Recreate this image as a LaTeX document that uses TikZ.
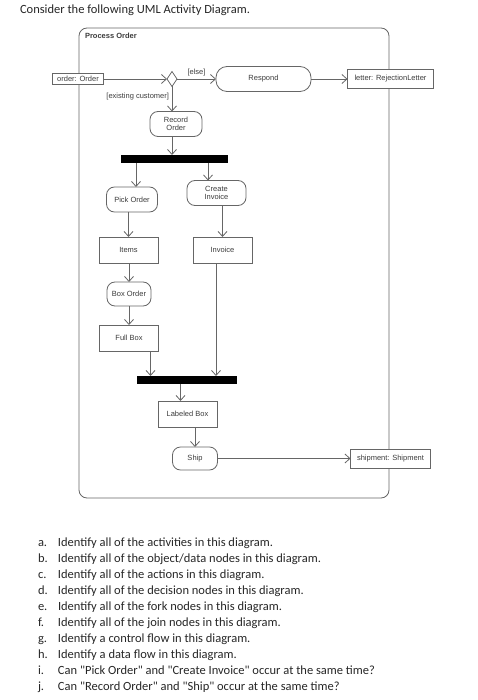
\documentclass[tikz,border=0pt]{standalone}
\usepackage{fontspec}
\setmainfont{Carlito}[Ligatures=TeXOff]
\newfontfamily\umlfont{Liberation Sans}
\usetikzlibrary{positioning,arrows.meta,shapes.geometric}
\definecolor{umlgray}{HTML}{666666}
\definecolor{umltext}{HTML}{3C3C3C}

\begin{document}
\begin{tikzpicture}[
    x=1pt, y=1pt,
    node distance=20pt and 30pt,
    every node/.style={inner sep=0pt, outer sep=0pt},
    uml/.style={font=\umlfont\fontsize{7.5}{8.5}\selectfont, text=umltext, align=center},
    frame/.style={rectangle, draw=umlgray, line width=0.8pt, rounded corners=8pt},
    act/.style={uml, rectangle, draw=umlgray, line width=0.8pt, rounded corners=8pt, fill=white},
    obj/.style={uml, rectangle, draw=umlgray, line width=0.8pt, fill=white},
    bar/.style={rectangle, fill=black, minimum height=8pt},
    decision/.style={diamond, draw=umlgray, line width=0.8pt, fill=white,
                     minimum width=10pt, minimum height=15pt},
    flow/.style={-{Straight Barb[length=5pt,width=9pt]}, draw=umlgray, line width=0.8pt},
    guard/.style={uml, inner sep=3pt},
    qtext/.style={font=\fontsize{12.5}{15}\selectfont, text=black!85, anchor=base west},
]
    \useasboundingbox (0,0) rectangle (477,-700);

    \node[qtext] (title) at (20,-14) {Consider the following UML Activity Diagram.};

    % activity frame
    \node[frame, minimum width=310pt, minimum height=470pt] (po) at (234,-263) {};
    \node[uml, font=\umlfont\bfseries\fontsize{7.5}{8.5}\selectfont, anchor=north west]
        (potitle) at ([xshift=6pt,yshift=-5pt]po.north west) {Process Order};

    \node[obj, minimum width=51pt, minimum height=11pt] (ord) at (78,-79) {order: Order};
    \node[decision, right=63.5pt of ord] (dec) {};
    \node[act, minimum width=95pt, minimum height=25pt, rounded corners=11pt,
          right=39pt of dec] (resp) {Respond};
    \node[obj, minimum width=86pt, minimum height=19pt, right=36.5pt of resp] (rej) {letter: RejectionLetter};
    \node[act, minimum width=52pt, minimum height=25pt, below=25pt of dec, xshift=4pt] (rec) {Record\\Order};
    \node[bar, minimum width=107pt, below=18.5pt of rec, xshift=-1.5pt] (fork) {};
    \node[act, minimum width=51pt, minimum height=25pt, below=24pt of fork, xshift=-42.5pt] (pick) {Pick Order};
    \node[act, minimum width=59pt, minimum height=25pt, below=17.5pt of fork, xshift=42pt] (cinv) {Create\\Invoice};
    \node[obj, minimum width=59pt, minimum height=26pt, below=25pt of pick, xshift=-3.5pt] (items) {Items};
    \node[obj, minimum width=59pt, minimum height=26pt, below=31.5pt of cinv, xshift=6pt] (inv) {Invoice};
    \node[act, minimum width=44pt, minimum height=24pt, below=19pt of items, xshift=0.5pt] (boxo) {Box Order};
    \node[obj, minimum width=59pt, minimum height=26pt, below=19pt of boxo] (full) {Full Box};
    \node[bar, minimum width=100pt, below=25pt of full, xshift=57.5pt] (join) {};
    \node[obj, minimum width=59pt, minimum height=26pt, below=17pt of join, xshift=1pt] (lab) {Labeled Box};
    \node[act, minimum width=45pt, minimum height=23pt, below=20pt of lab, xshift=7.5pt] (ship) {Ship};
    \node[obj, minimum width=80pt, minimum height=19pt, right=133pt of ship] (shp) {shipment: Shipment};

    \draw[flow] (ord) -- (dec);
    \draw[flow] (dec) -- node[guard, above] (else) {[else]} (resp);
    \draw[flow] (resp) -- (rej);
    \draw[flow] (dec) -- node[guard, left, pos=0.42] (exist) {[existing customer]} (dec |- rec.north);
    \draw[flow] (dec |- rec.south) -- (dec |- fork.north);
    \draw[flow] ([xshift=4pt]pick.north |- fork.south) -- ([xshift=4pt]pick.north);
    \draw[flow] ([xshift=-8.5pt]cinv.north |- fork.south) -- ([xshift=-8.5pt]cinv.north);
    \draw[flow] (items.north |- pick.south) -- (items.north);
    \draw[flow] (inv.north |- cinv.south) -- (inv.north);
    \draw[flow] (boxo.north |- items.south) -- (boxo.north);
    \draw[flow] (boxo) -- (full);
    \draw[flow] ([xshift=21.5pt]full.south) -- ([xshift=21.5pt]full.south |- join.north);
    \draw[flow] ([xshift=-6.5pt]inv.south) -- ([xshift=-6.5pt]inv.south |- join.north);
    \draw[flow] ([xshift=-7pt]lab.north |- join.south) -- ([xshift=-7pt]lab.north);
    \draw[flow] (ship.north |- lab.south) -- (ship.north);
    \draw[flow] (ship) -- (shp);

    % questions
    \foreach \l/\q [count=\i] in {
        a/{Identify all of the activities in this diagram.},
        b/{Identify all of the object/data nodes in this diagram.},
        c/{Identify all of the actions in this diagram.},
        d/{Identify all of the decision nodes in this diagram.},
        e/{Identify all of the fork nodes in this diagram.},
        f/{Identify all of the join nodes in this diagram.},
        g/{Identify a control flow in this diagram.},
        h/{Identify a data flow in this diagram.},
        i/{Can "Pick Order" and "Create Invoice" occur at the same time?},
        j/{Can "Record Order" and "Ship" occur at the same time?}}
        \node[qtext] (q\i) at (38,{-546-16*(\i-1)}) {\makebox[20pt][l]{\l.}\q};
\end{tikzpicture}
\end{document}
